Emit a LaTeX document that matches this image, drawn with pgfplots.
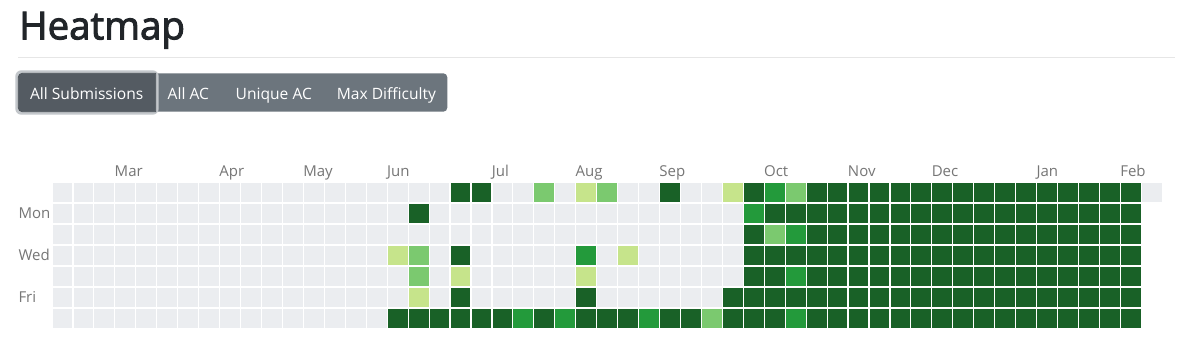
\documentclass[border=0pt]{standalone}
\usepackage{pgfplots}
\pgfplotsset{compat=1.18}
\usepackage{fontspec}
\setmainfont{Open Sans}
\newfontfamily\titlefont{Open Sans}[FakeBold=2.5]
\definecolor{c0}{HTML}{EBEDF0}
\definecolor{c1}{HTML}{C6E48B}
\definecolor{c2}{HTML}{7BC96F}
\definecolor{c3}{HTML}{239A3B}
\definecolor{c4}{HTML}{196127}
\definecolor{lbl}{HTML}{767676}
\definecolor{ttl}{HTML}{212529}
\definecolor{btn}{HTML}{6C757D}
\definecolor{btnact}{HTML}{545B62}
\definecolor{btnbrd}{HTML}{4E555B}
\definecolor{ring}{HTML}{C3C7CB}
\definecolor{rulec}{HTML}{E6E6E6}
\pgfplotsset{cell/.style={only marks, mark=square*, mark size=9.4pt, mark options={fill=#1, draw=#1, line width=0.4pt}}}
\begin{document}
\begin{tikzpicture}[x=1pt,y=1pt]
\fill[white] (0pt,0pt) rectangle (1200pt,-360pt);
\node[anchor=base west, inner sep=0, text=ttl, font=\titlefont\fontsize{38.5}{44}\selectfont] at (19pt,-39.3pt) {Heatmap};
\draw[rulec, line width=1pt] (18.3pt,-57.3pt) -- (1175pt,-57.3pt);
% button group
\fill[btn, rounded corners=4pt] (18.3pt,-73.3pt) rectangle (447.3pt,-111.7pt);
\fill[ring, rounded corners=6pt] (15.3pt,-70.3pt) rectangle (158.7pt,-114.7pt);
\filldraw[fill=btnact, draw=btnbrd, line width=0.8pt] (155.7pt,-73.3pt) [rounded corners=4pt]-- (18.3pt,-73.3pt) -- (18.3pt,-111.7pt) [sharp corners]-- (155.7pt,-111.7pt) -- cycle;
\begin{scope}[every node/.style={anchor=base, inner sep=0, text=white, font=\fontsize{15.6}{19}\selectfont}]
\node at (86.7pt,-99.3pt) {All Submissions};
\node at (188.3pt,-99.3pt) {All AC};
\node at (273.8pt,-99.3pt) {Unique AC};
\node at (386.4pt,-99.3pt) {Max Difficulty};
\end{scope}
\begin{axis}[at={(51.7pt,-181.7pt)}, anchor=north west, scale only axis,
  width=1110.35pt, height=147pt,
  xmin=-0.5, xmax=52.5, ymin=-0.5, ymax=6.5, y dir=reverse, clip=false,
  axis line style={draw=none}, major tick length=0pt,
  xtick=\empty, ytick={1,3,5}, yticklabels={Mon,Wed,Fri},
  yticklabel style={anchor=west, inner sep=0pt, xshift=-33.4pt, text=lbl, font=\fontsize{15}{18}\selectfont}]
% level 0: no activity
\addplot[cell=c0] coordinates {
(0,0)(0,1)(0,2)(0,3)(0,4)(0,5)(0,6)
(1,0)(1,1)(1,2)(1,3)(1,4)(1,5)(1,6)
(2,0)(2,1)(2,2)(2,3)(2,4)(2,5)(2,6)
(3,0)(3,1)(3,2)(3,3)(3,4)(3,5)(3,6)
(4,0)(4,1)(4,2)(4,3)(4,4)(4,5)(4,6)
(5,0)(5,1)(5,2)(5,3)(5,4)(5,5)(5,6)
(6,0)(6,1)(6,2)(6,3)(6,4)(6,5)(6,6)
(7,0)(7,1)(7,2)(7,3)(7,4)(7,5)(7,6)
(8,0)(8,1)(8,2)(8,3)(8,4)(8,5)(8,6)
(9,0)(9,1)(9,2)(9,3)(9,4)(9,5)(9,6)
(10,0)(10,1)(10,2)(10,3)(10,4)(10,5)(10,6)
(11,0)(11,1)(11,2)(11,3)(11,4)(11,5)(11,6)
(12,0)(12,1)(12,2)(12,3)(12,4)(12,5)(12,6)
(13,0)(13,1)(13,2)(13,3)(13,4)(13,5)(13,6)
(14,0)(14,1)(14,2)(14,3)(14,4)(14,5)(14,6)
(15,0)(15,1)(15,2)(15,3)(15,4)(15,5)(15,6)
(16,0)(16,1)(16,2)(16,4)(16,5)
(17,0)(17,2)
(18,0)(18,1)(18,2)(18,3)(18,4)(18,5)
(19,1)(19,2)
(20,1)(20,2)(20,3)(20,4)(20,5)
(21,0)(21,1)(21,2)(21,3)(21,4)(21,5)
(22,0)(22,1)(22,2)(22,3)(22,4)(22,5)
(23,1)(23,2)(23,3)(23,4)(23,5)
(24,0)(24,1)(24,2)(24,3)(24,4)(24,5)
(25,1)(25,2)
(26,1)(26,2)(26,3)(26,4)(26,5)
(27,0)(27,1)(27,2)(27,4)(27,5)
(28,0)(28,1)(28,2)(28,3)(28,4)(28,5)
(29,1)(29,2)(29,3)(29,4)(29,5)
(30,0)(30,1)(30,2)(30,3)(30,4)(30,5)
(31,0)(31,1)(31,2)(31,3)(31,4)(31,5)
(32,1)(32,2)(32,3)(32,4)
(52,0)
};
% level 1
\addplot[cell=c1] coordinates {(16,3)(17,5)(19,4)(25,0)(25,4)(27,3)(32,0)};
% level 2
\addplot[cell=c2] coordinates {(17,3)(17,4)(23,0)(26,0)(31,6)(34,2)(35,0)};
% level 3
\addplot[cell=c3] coordinates {(22,6)(24,6)(25,3)(28,6)(33,1)(34,0)(35,2)(35,4)(35,6)};
% level 4
\addplot[cell=c4] coordinates {
(16,6)(17,1)(17,6)(18,6)(19,0)(19,3)(19,5)(19,6)(20,0)(20,6)(21,6)(23,6)
(25,5)(25,6)(26,6)(27,6)(29,0)(29,6)(30,6)(32,5)(32,6)
(33,0)(33,2)(33,3)(33,4)(33,5)(33,6)
(34,1)(34,3)(34,4)(34,5)(34,6)
(35,1)(35,3)(35,5)
(36,0)(36,1)(36,2)(36,3)(36,4)(36,5)(36,6)
(37,0)(37,1)(37,2)(37,3)(37,4)(37,5)(37,6)
(38,0)(38,1)(38,2)(38,3)(38,4)(38,5)(38,6)
(39,0)(39,1)(39,2)(39,3)(39,4)(39,5)(39,6)
(40,0)(40,1)(40,2)(40,3)(40,4)(40,5)(40,6)
(41,0)(41,1)(41,2)(41,3)(41,4)(41,5)(41,6)
(42,0)(42,1)(42,2)(42,3)(42,4)(42,5)(42,6)
(43,0)(43,1)(43,2)(43,3)(43,4)(43,5)(43,6)
(44,0)(44,1)(44,2)(44,3)(44,4)(44,5)(44,6)
(45,0)(45,1)(45,2)(45,3)(45,4)(45,5)(45,6)
(46,0)(46,1)(46,2)(46,3)(46,4)(46,5)(46,6)
(47,0)(47,1)(47,2)(47,3)(47,4)(47,5)(47,6)
(48,0)(48,1)(48,2)(48,3)(48,4)(48,5)(48,6)
(49,0)(49,1)(49,2)(49,3)(49,4)(49,5)(49,6)
(50,0)(50,1)(50,2)(50,3)(50,4)(50,5)(50,6)
(51,0)(51,1)(51,2)(51,3)(51,4)(51,5)(51,6)
};
% month labels
\begin{scope}[every node/.style={anchor=base west, inner sep=0pt, yshift=5.2pt, text=lbl, font=\fontsize{15}{18}\selectfont}]
\node at (axis cs:2.5,-0.5) {Mar};
\node at (axis cs:7.5,-0.5) {Apr};
\node at (axis cs:11.5,-0.5) {May};
\node at (axis cs:15.5,-0.5) {Jun};
\node at (axis cs:20.5,-0.5) {Jul};
\node at (axis cs:24.5,-0.5) {Aug};
\node at (axis cs:28.5,-0.5) {Sep};
\node at (axis cs:33.5,-0.5) {Oct};
\node at (axis cs:37.5,-0.5) {Nov};
\node at (axis cs:41.5,-0.5) {Dec};
\node at (axis cs:46.5,-0.5) {Jan};
\node at (axis cs:50.5,-0.5) {Feb};
\end{scope}
\end{axis}
\end{tikzpicture}
\end{document}
